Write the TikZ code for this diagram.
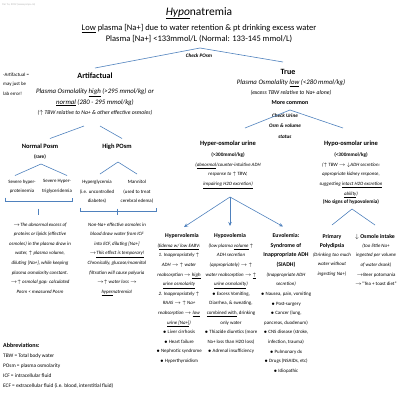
\documentclass[tikz,border=0pt]{standalone}
\usepackage{fontspec}
\setmainfont{Carlito}
\usetikzlibrary{arrows.meta, positioning, calc}
\definecolor{linkblue}{HTML}{4F81BD}
\newcommand{\hnUp}{$\uparrow$}
\newcommand{\hnDn}{$\downarrow$}
\newcommand{\hnTo}{$\rightarrow$}

\begin{document}
\begin{tikzpicture}[x=1pt, y=-1pt, >={Stealth[length=4pt, width=3.5pt]},
  every node/.style={inner sep=0pt, align=center, anchor=north},
  big/.style={font=\fontsize{8}{9.5}\selectfont\bfseries},
  head/.style={font=\fontsize{6.5}{8}\selectfont\bfseries},
  subhd/.style={font=\fontsize{5.8}{9.6}\selectfont\bfseries},
  mid/.style={font=\fontsize{6.8}{10.5}\selectfont\itshape},
  txt/.style={font=\fontsize{4.9}{9.6}\selectfont},
  txti/.style={font=\fontsize{4.9}{9.6}\selectfont\itshape},
  txtb/.style={font=\fontsize{5.2}{9.6}\selectfont\bfseries},
  txtbi/.style={font=\fontsize{5.2}{10.5}\selectfont\bfseries\itshape},
  link/.style={draw=linkblue, line width=0.6pt},
  arr/.style={link, ->}]
  \useasboundingbox (0,0) rectangle (400,400);

  % Kopf
  \node (wm) [anchor=west, font=\fontsize{2.8}{3}\selectfont, text=gray!60] at (2,5) {Yan Yu, 2012 (www.yanyu.ca)};
  \node (title) [font=\fontsize{11.5}{13}\selectfont] at (199,7) {\underline{\textit{Hypo}}natremia};
  \node (sub) [font=\fontsize{8.5}{11}\selectfont] at (199,24) {\underline{Low} plasma [Na+] due to water retention \& pt drinking excess water\\ Plasma [Na+] <133mmol/L (Normal: 133-145 mmol/L)};
  \node (chkposm) [txtbi] at (199,54) {Check POsm};

  % Artifactual
  \node (art) [big] at (95,73) {Artifactual};
  \node (artd) [mid] at (95,88.5) {Plasma Osmolality \underline{high} (>295 mmol/kg) or\\ \underline{normal} (280 - 295 mmol/kg)};
  \node (artn) [txti, font=\fontsize{5.7}{8}\selectfont\itshape] at (95,110) {(\hnUp{} TBW relative to Na+ \& other effective osmoles)};
  \node (lab) [txt, anchor=north west, align=left] at (3,72.5) {-Artifactual =\\ may just be\\ lab error!};

  \node (normal) [head] at (40,143.5) {Normal Posm};
  \node (rare) [txtb] at (40,154.5) {(rare)};
  \node (high) [head] at (117,143.5) {High POsm};
  \node (sp) [txt] at (22,179.5) {Severe hyper-\\ proteinemia};
  \node (st) [txt] at (57,179.5) {Severe Hyper-\\ triglyceridemia};
  \node (hg) [txt] at (97,180) {Hyperglycemia\\ (i.e. uncontrolled\\ diabetes)};
  \node (mn) [txt] at (137,180) {Mannitol\\ (used to treat\\ cerebral edema)};
  \node (normd) [txti] at (40,222.5) {\hnTo The abnormal excess of\\ proteins or lipids (effective\\ osmoles) in the plasma draw in\\ water, \hnUp{} plasma volume,\\ diluting [Na+], while keeping\\ plasma osmolarity constant.\\ \hnTo\hnUp{} osmolal gap: calculated\\ Posm < measured Posm};
  \node (highd) [txti] at (117,222.5) {Non-Na+ effective osmoles in\\ blood draw water from ICF\\ into ECF, diluting [Na+]\\ \hnTo\underline{This effect is temporary!}\\ Chronically, glucose/mannitol\\ filtration will cause polyuria\\ \hnTo\hnUp{} water loss \hnTo\\ \underline{hyper}natremia!};

  % True
  \node (true) [big] at (288,69) {True};
  \node (trued) [mid] at (291,79.5) {Plasma Osmolality \underline{low} (<280 mmol/kg)};
  \node (truen) [txti, font=\fontsize{5.8}{8}\selectfont\itshape] at (291,90) {(excess TBW relative to Na+ alone)};
  \node (common) [txtb, font=\fontsize{6}{8}\selectfont\bfseries] at (290,100) {More common};
  \node (chku) [txtbi] at (285,113.5) {Check Urine\\ Osm \& volume\\ status};

  \node (hyo) [head] at (228,141) {Hyper-osmolar urine};
  \node (hyok) [txtb] at (228,152) {(>300mmol/kg)};
  \node (hyod) [txti] at (228,162.5) {(\underline{abnormal}/counter-intuitive ADH\\ response to \hnUp{} TBW,\\ \underline{impairing H2O excretion)}};
  \node (hpo) [head] at (351,141) {Hypo-osmolar urine};
  \node (hpok) [txtb] at (351,152) {(<300mmol/kg)};
  \node (hpod) [txti] at (351,162.5) {(\hnUp{} TBW \hnTo{} \hnDn ADH secretion:\\ appropriate kidney response,\\ suggesting \underline{intact H2O excretion}\\ \underline{ability})};
  \node (hpon) [txtb] at (351,199.5) {(No signs of hypovolemia)};

  \node (hyper) [subhd] at (182,233) {Hypervolemia};
  \node (hyperd) [txti] at (179,243.5) {(\underline{Edema w/ low EABV}:\\ 1. Inappropriately \hnUp\\ ADH \hnTo{} \hnUp{} water\\ reabsorption \hnTo{} \underline{high}\\ \underline{urine osmolarity}\\ 2. Inappropriately \hnUp\\ RAAS \hnTo{} \hnUp{} Na+\\ reabsorption \hnTo{} \underline{low}\\ \underline{urine [Na+]})\\ \upshape $\bullet$ Liver cirrhosis\\ \upshape $\bullet$ Heart failure\\ \upshape $\bullet$ Nephrotic syndrome\\ \upshape $\bullet$ Hyperthyroidism};
  \node (hypo) [subhd] at (230,233) {Hypovolemia};
  \node (hypod) [txti] at (231,243.5) {(low plasma \underline{volume} \hnUp\\ ADH secretion\\ (appropriately) \hnTo{} \hnUp\\ water reabsorption \hnTo{} \underline{\hnUp}\\ \underline{urine osmolarity})\\ \upshape $\bullet$ Excess Vomiting,\\ \upshape Diarrhea, \& sweating,\\ \upshape \underline{combined with}, drinking\\ \upshape only water\\ \upshape $\bullet$ Thiazide diuretics (more\\ \upshape Na+ loss than H2O loss)\\ \upshape $\bullet$ Adrenal insufficiency};
  \node (euvo) [subhd] at (286,233.5) {Euvolemia:\\ Syndrome of\\ Inappropriate ADH\\ (SIADH)};
  \node (euvod) [txti] at (286,272.5) {(Inappropriate ADH\\ secretion)\\ \upshape $\bullet$ Nausea, pain, vomiting\\ \upshape $\bullet$ Post-surgery\\ \upshape $\bullet$ Cancer (lung,\\ \upshape pancreas, duodenum)\\ \upshape $\bullet$ CNS disease (stroke,\\ \upshape infection, trauma)\\ \upshape $\bullet$ Pulmonary dx\\ \upshape $\bullet$ Drugs (NSAIDs, etc)\\ \upshape $\bullet$ Idiopathic};
  \node (prim) [subhd] at (332,234) {Primary\\ Polydipsia};
  \node (primd) [txti] at (332,252.5) {(Drinking too much\\ water without\\ ingesting Na+)};
  \node (osm) [subhd] at (375,234) {\hnDn{} Osmole intake};
  \node (osmd) [txti] at (376,243.5) {(too little Na+\\ ingested per volume\\ of water drank)\\ \upshape\hnTo Beer potomania\\ \upshape\hnTo``Tea + toast diet''};

  % Abkuerzungen
  \node (abbr) [txt, font=\fontsize{5.3}{10}\selectfont, anchor=north west, align=left] at (3,343.5) {{\fontsize{6}{10}\selectfont\bfseries Abbreviations:}\\ TBW = Total body water\\ POsm = plasma osmolarity\\ ICF = intracellular fluid\\ ECF = extracellular fluid (i.e. blood, interstitial fluid)};

  % Verzweigungspunkte
  \coordinate (posm) at (200,48);
  \coordinate (arts1) at (84,126);
  \coordinate (arts2) at (100,126);
  \coordinate (nrms) at (41,164);
  \coordinate (hghs) at (118,162);
  \coordinate (urin) at (290,110);
  \coordinate (hyos) at (230,197);
  \coordinate (hpos) at (352,209);

  % Linien
  \draw[link] (posm) -- ([yshift=5pt]art.north);
  \draw[link] (posm) -- ([xshift=-5pt, yshift=7pt]true.north);
  \draw[link] (arts1) -- ([xshift=10pt, yshift=5pt]normal.north);
  \draw[link] (arts2) -- ([xshift=5pt, yshift=5pt]high.north);
  \draw[link] (nrms) -- ([xshift=-7pt, yshift=4pt]sp.north);
  \draw[link] (nrms) -- ([xshift=10pt, yshift=4pt]st.north);
  \draw[link] (hghs) -- ([xshift=3pt, yshift=6pt]hg.north);
  \draw[link] (hghs) -- ([yshift=6pt]mn.north);
  % Klammern
  \draw[link] ([xshift=-17pt, yshift=-4pt]sp.south) -- ([xshift=-17pt, yshift=-8pt]sp.south) -| ([xshift=15pt, yshift=-4pt]st.south);
  \draw[link] ([xshift=-2pt, yshift=14pt]normd.north) -- ([xshift=-2pt, yshift=8pt]normd.north);
  \draw[link] ([xshift=-17pt, yshift=-4pt]hg.south) -- ([xshift=-17pt, yshift=-8pt]hg.south) -| ([xshift=19pt, yshift=-4pt]mn.south);
  \draw[link] ([yshift=14pt]highd.north) -- ([yshift=8pt]highd.north);

  \draw[link] (urin) -- ([xshift=17pt, yshift=13pt]hyo.north);
  \draw[link] (urin) -- ([xshift=-8pt, yshift=13pt]hpo.north);
  \draw[arr] (hyos) -- ([xshift=2pt, yshift=6pt]hyper.north);
  \draw[arr] (hyos) -- ([yshift=7pt]hypo.north);
  \draw[arr] (hyos) -- ([xshift=-3pt, yshift=7pt]euvo.north);
  \draw[link] (hpos) -- ([yshift=9pt]prim.north);
  \draw[link] (hpos) -- ([yshift=9pt]osm.north);
\end{tikzpicture}
\end{document}
